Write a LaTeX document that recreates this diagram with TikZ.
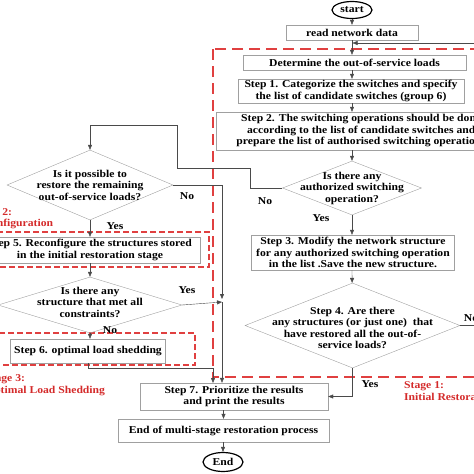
\documentclass[tikz,border=0pt]{standalone}
\usepackage{fontspec}
\setmainfont{Liberation Serif}[FakeStretch=1.11]
\usepackage{tikz}
\usetikzlibrary{arrows.meta, shapes.geometric}
\definecolor{boxgray}{HTML}{A0A0A0}
\definecolor{linegray}{HTML}{4A4A4A}
\definecolor{stagered}{HTML}{E04040}
\definecolor{labelred}{HTML}{D42A2A}
\tikzset{
  every node/.style={font=\bfseries\fontsize{10.5}{11.5}\selectfont},
  procbox/.style={rectangle, draw=boxgray, align=center, inner sep=0pt},
  decision/.style={diamond, draw=boxgray, inner sep=0pt},
  dtext/.style={align=center, inner sep=0pt},
  term/.style={ellipse, draw=black, line width=1.2pt, inner sep=0pt},
  flow/.style={draw=linegray, -{Triangle[length=5pt,width=4pt]}},
  stagebig/.style={draw=stagered, line width=1.1pt, dash pattern=on 11pt off 6pt},
  stagesmall/.style={draw=stagered, line width=1.2pt, dash pattern=on 6pt off 3pt},
  stagelabel/.style={text=labelred, align=left, anchor=west, inner sep=0pt}
}

\begin{document}
\begin{tikzpicture}[x=1pt, y=-1pt]
\useasboundingbox (0,0) rectangle (474,474);

% stage frames
\draw[stagebig] (213,49) rectangle (495,377);
\draw[stagesmall] (-10,232) rectangle (209,267);
\draw[stagesmall] (-10,333) rectangle (195,365);

% stage 1
\node[term, minimum width=40, minimum height=17] (start) at (352,10) {start};
\node[procbox, minimum width=132, minimum height=15] (read) at (352,32.5) {read network data};
\node[procbox, minimum width=223, minimum height=15] (det) at (354.5,62.5) {Determine the out-of-service loads};
\node[procbox, minimum width=226, minimum height=24] (s1) at (351,91) {Step 1. Categorize the switches and specify\\the list of candidate switches (group 6)};
\node[procbox, minimum width=290, minimum height=38, anchor=west] (s2) at (216,131) {Step 2. The switching operations should be done\\according to the list of candidate switches and\\prepare the list of authorised switching operations};
\node[decision, minimum width=139, minimum height=54] (d1) at (352,188) {};
\node[dtext] (d1t) at (352,188) {Is there any\\authorized switching\\operation?};
\node[procbox, minimum width=203, minimum height=35] (s3) at (353,252.5) {Step 3. Modify the network structure\\for any authorized switching operation\\in the list .Save the new structure.};
\node[decision, minimum width=215, minimum height=85] (d4) at (352.5,325.5) {};
\node[dtext] (d4t) at (352.5,328) {Step 4. Are there\\any structures (or just one)\ \ that\\have restored all the out-of-\\service loads?};

% stage 2
\node[decision, minimum width=166, minimum height=70] (dA) at (90,185) {};
\node[dtext] (dAt) at (90,185) {Is it possible to\\restore the remaining\\out-of-service loads?};
\node[procbox, minimum width=220, minimum height=26] (s5) at (90,250) {Step 5. Reconfigure the structures stored\\in the initial restoration stage};
\node[decision, minimum width=184, minimum height=56] (dB) at (90,305) {};
\node[dtext] (dBt) at (90,302) {Is there any\\structure that met all\\constraints?};

% stage 3 and end
\node[procbox, minimum width=155, minimum height=24] (s6) at (88,351) {Step 6. optimal load shedding};
\node[procbox, minimum width=188, minimum height=27] (s7) at (234,396.5) {Step 7. Prioritize the results\\and print the results};
\node[procbox, minimum width=211, minimum height=23] (fin) at (223.5,430.5) {End of multi-stage restoration process};
\node[term, minimum width=40, minimum height=19] (stop) at (223,462) {End};

% stage labels
\node[stagelabel] (lab1) at (404,391) {Stage 1:\\Initial Restoration};
\node[stagelabel] (lab2) at (-28,218.5) {Stage 2:\\Reconfiguration};
\node[stagelabel] (lab3) at (-15,385) {Stage 3:\\Optimal Load Shedding};

% branch labels
\node (no1) at (265,201) {No};
\node (yes1) at (321,218) {Yes};
\node (no2) at (187,196) {No};
\node (yes2) at (115,226) {Yes};
\node (yes3) at (187,290) {Yes};
\node (no3) at (110,330) {No};
\node (yes4) at (370,384) {Yes};
\node (no4) at (471,318) {No};

% connectors
\coordinate (loopin) at (352.5,43);
\coordinate (join) at (222,302);
\draw[flow] (start) -- (read);
\draw[flow] (read) -- (read |- det.north);
\draw[flow] (det.south -| read) -- (read |- s1.north);
\draw[flow] (s1.south -| read) -- (read |- s2.north);
\draw[flow] (s2.south -| read) -- (d1);
\draw[flow] (d1) -- (d1 |- s3.north);
\draw[flow] (s3.south -| d1) -- (d4);
\draw[flow] (d4.east) -- ++(30,0) |- (loopin);
\draw[flow] (d1.west) -- (250,188) -- (250,168) -- (177,168) -- (177,125) -| (dA.north);
\draw[flow] (dA.east) -| (222,299);
\draw[flow] (dB.east) -- (join);
\draw[flow] (join) -- (join |- s7.north);
\draw[flow] (dA) -- (s5);
\draw[flow] (s5) -- (dB);
\draw[flow] (dB) -- (dB |- s6.north);
\draw[flow] (s6.south) -- ++(0,5) -| (213,383);
\draw[flow] (d4.south) |- (s7.east);
\draw[flow] (s7.south -| fin) -- (fin);
\draw[flow] (fin.south -| stop) -- (stop);
\end{tikzpicture}
\end{document}
